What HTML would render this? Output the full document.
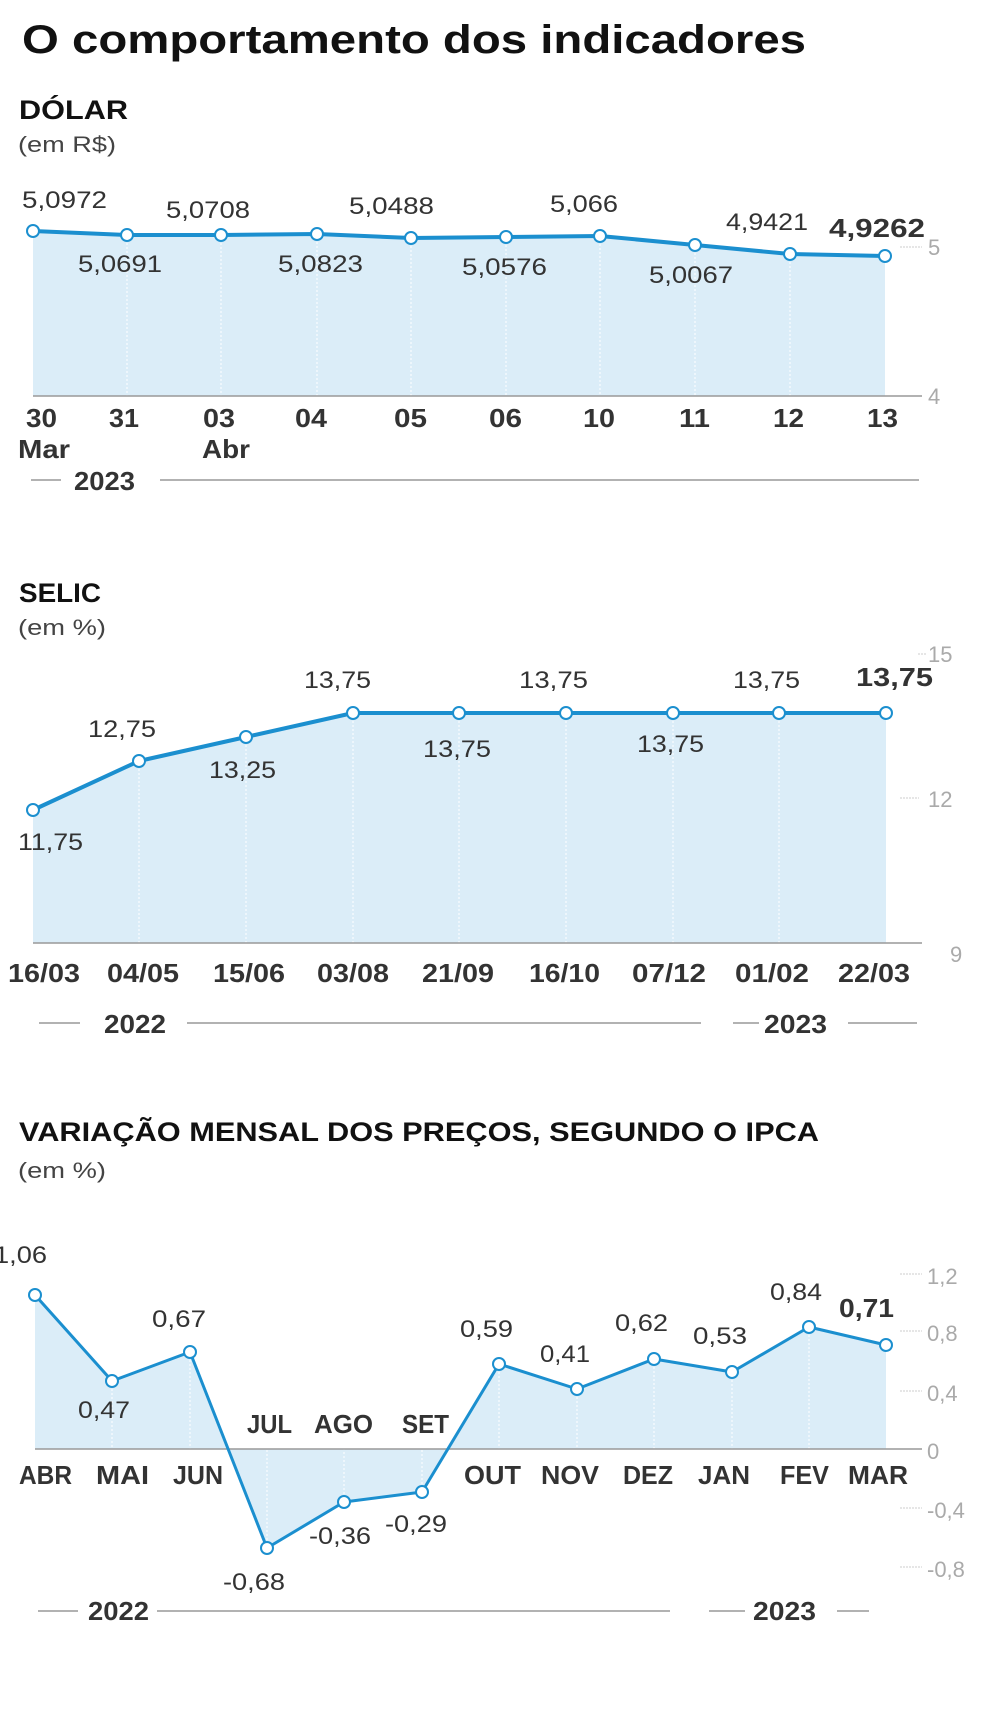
<!DOCTYPE html>
<html><head><meta charset="utf-8"><style>
html,body{margin:0;padding:0;background:#fff;}
svg{display:block;}
text{font-family:"Liberation Sans",sans-serif;}
.t{font-weight:bold;fill:#111;}
.sub{fill:#444;font-size:22px;}
.v{fill:#333;font-size:24px;}
.vb{fill:#333;font-size:26px;font-weight:bold;}
.x{fill:#333;font-size:26px;font-weight:bold;}
.ax{fill:#aaa;font-size:22px;}
.ln{fill:none;stroke:#1b8fcf;stroke-linejoin:round;}
.ar{fill:#dbedf8;}
.vl{stroke:#fff;stroke-width:1;stroke-dasharray:2,2;}
.mk{fill:#fff;stroke:#1b8fcf;stroke-width:2;}
.gl{stroke:#999;stroke-width:1.5;}
.gd{stroke:#ccc;stroke-width:1;stroke-dasharray:2,1;}
</style></head><body>
<svg width="984" height="1710" viewBox="0 0 984 1710" xmlns="http://www.w3.org/2000/svg">
<text class="t" x="22" y="53" font-size="40" textLength="784" lengthAdjust="spacingAndGlyphs">O comportamento dos indicadores</text>

<!-- DOLAR -->
<text class="t" x="19" y="119" font-size="27" textLength="109" lengthAdjust="spacingAndGlyphs">DÓLAR</text>
<text class="sub" x="18" y="152" textLength="98" lengthAdjust="spacingAndGlyphs">(em R$)</text>
<polygon class="ar" points="33,231 127,235 221,235 317,234 411,238 506,237 600,236 695,245 790,254 885,256 885,396 33,396"/>
<g class="vl"><line x1="127" y1="235" x2="127" y2="396"/><line x1="221" y1="235" x2="221" y2="396"/><line x1="317" y1="234" x2="317" y2="396"/><line x1="411" y1="238" x2="411" y2="396"/><line x1="506" y1="237" x2="506" y2="396"/><line x1="600" y1="236" x2="600" y2="396"/><line x1="695" y1="245" x2="695" y2="396"/><line x1="790" y1="254" x2="790" y2="396"/></g>
<line class="gl" x1="33" y1="396" x2="922" y2="396"/>
<line class="gd" x1="900" y1="247" x2="922" y2="247"/>
<polyline class="ln" stroke-width="4" points="33,231 127,235 221,235 317,234 411,238 506,237 600,236 695,245 790,254 885,256"/>
<g class="mk"><circle cx="33" cy="231" r="6"/><circle cx="127" cy="235" r="6"/><circle cx="221" cy="235" r="6"/><circle cx="317" cy="234" r="6"/><circle cx="411" cy="238" r="6"/><circle cx="506" cy="237" r="6"/><circle cx="600" cy="236" r="6"/><circle cx="695" cy="245" r="6"/><circle cx="790" cy="254" r="6"/><circle cx="885" cy="256" r="6"/></g>
<text class="ax" x="928" y="255">5</text><text class="ax" x="928" y="404">4</text>
<g class="v">
<text x="22" y="208" textLength="85" lengthAdjust="spacingAndGlyphs">5,0972</text>
<text x="78" y="272" textLength="84" lengthAdjust="spacingAndGlyphs">5,0691</text>
<text x="166" y="218" textLength="84" lengthAdjust="spacingAndGlyphs">5,0708</text>
<text x="278" y="272" textLength="85" lengthAdjust="spacingAndGlyphs">5,0823</text>
<text x="349" y="214" textLength="85" lengthAdjust="spacingAndGlyphs">5,0488</text>
<text x="462" y="275" textLength="85" lengthAdjust="spacingAndGlyphs">5,0576</text>
<text x="550" y="212" textLength="68" lengthAdjust="spacingAndGlyphs">5,066</text>
<text x="649" y="283" textLength="84" lengthAdjust="spacingAndGlyphs">5,0067</text>
<text x="726" y="230" textLength="82" lengthAdjust="spacingAndGlyphs">4,9421</text>
</g>
<text class="vb" x="829" y="237" textLength="96" lengthAdjust="spacingAndGlyphs">4,9262</text>
<g class="x">
<text x="26" y="427" textLength="31" lengthAdjust="spacingAndGlyphs">30</text>
<text x="18" y="458" textLength="52" lengthAdjust="spacingAndGlyphs">Mar</text>
<text x="109" y="427" textLength="30" lengthAdjust="spacingAndGlyphs">31</text>
<text x="203" y="427" textLength="32" lengthAdjust="spacingAndGlyphs">03</text>
<text x="202" y="458" textLength="48" lengthAdjust="spacingAndGlyphs">Abr</text>
<text x="295" y="427" textLength="32" lengthAdjust="spacingAndGlyphs">04</text>
<text x="394" y="427" textLength="33" lengthAdjust="spacingAndGlyphs">05</text>
<text x="489" y="427" textLength="33" lengthAdjust="spacingAndGlyphs">06</text>
<text x="583" y="427" textLength="32" lengthAdjust="spacingAndGlyphs">10</text>
<text x="679" y="427" textLength="31" lengthAdjust="spacingAndGlyphs">11</text>
<text x="773" y="427" textLength="31" lengthAdjust="spacingAndGlyphs">12</text>
<text x="867" y="427" textLength="31" lengthAdjust="spacingAndGlyphs">13</text>
<text x="74" y="490" textLength="61" lengthAdjust="spacingAndGlyphs">2023</text>
</g>
<line class="gl" x1="31" y1="480" x2="61" y2="480"/><line class="gl" x1="160" y1="480" x2="919" y2="480"/>

<!-- SELIC -->
<text class="t" x="19" y="602" font-size="27" textLength="82" lengthAdjust="spacingAndGlyphs">SELIC</text>
<text class="sub" x="18" y="635" textLength="88" lengthAdjust="spacingAndGlyphs">(em %)</text>
<polygon class="ar" points="33,810 139,761 246,737 353,713 459,713 566,713 673,713 779,713 886,713 886,943 33,943"/>
<g class="vl"><line x1="139" y1="761" x2="139" y2="943"/><line x1="246" y1="737" x2="246" y2="943"/><line x1="353" y1="713" x2="353" y2="943"/><line x1="459" y1="713" x2="459" y2="943"/><line x1="566" y1="713" x2="566" y2="943"/><line x1="673" y1="713" x2="673" y2="943"/><line x1="779" y1="713" x2="779" y2="943"/></g>
<line class="gl" x1="33" y1="943" x2="922" y2="943"/>
<line class="gd" x1="900" y1="798" x2="919" y2="798"/>
<line class="gd" x1="918" y1="654" x2="926" y2="654"/>
<polyline class="ln" stroke-width="4" points="33,810 139,761 246,737 353,713 459,713 566,713 673,713 779,713 886,713"/>
<g class="mk"><circle cx="33" cy="810" r="6"/><circle cx="139" cy="761" r="6"/><circle cx="246" cy="737" r="6"/><circle cx="353" cy="713" r="6"/><circle cx="459" cy="713" r="6"/><circle cx="566" cy="713" r="6"/><circle cx="673" cy="713" r="6"/><circle cx="779" cy="713" r="6"/><circle cx="886" cy="713" r="6"/></g>
<text class="ax" x="928" y="662">15</text><text class="ax" x="928" y="807">12</text><text class="ax" x="950" y="962">9</text>
<g class="v">
<text x="18" y="850" textLength="65" lengthAdjust="spacingAndGlyphs">11,75</text>
<text x="88" y="737" textLength="68" lengthAdjust="spacingAndGlyphs">12,75</text>
<text x="209" y="778" textLength="67" lengthAdjust="spacingAndGlyphs">13,25</text>
<text x="304" y="688" textLength="67" lengthAdjust="spacingAndGlyphs">13,75</text>
<text x="423" y="757" textLength="68" lengthAdjust="spacingAndGlyphs">13,75</text>
<text x="519" y="688" textLength="69" lengthAdjust="spacingAndGlyphs">13,75</text>
<text x="637" y="752" textLength="67" lengthAdjust="spacingAndGlyphs">13,75</text>
<text x="733" y="688" textLength="67" lengthAdjust="spacingAndGlyphs">13,75</text>
</g>
<text class="vb" x="856" y="686" textLength="77" lengthAdjust="spacingAndGlyphs">13,75</text>
<g class="x">
<text x="8" y="982" textLength="72" lengthAdjust="spacingAndGlyphs">16/03</text>
<text x="107" y="982" textLength="72" lengthAdjust="spacingAndGlyphs">04/05</text>
<text x="213" y="982" textLength="72" lengthAdjust="spacingAndGlyphs">15/06</text>
<text x="317" y="982" textLength="72" lengthAdjust="spacingAndGlyphs">03/08</text>
<text x="422" y="982" textLength="72" lengthAdjust="spacingAndGlyphs">21/09</text>
<text x="529" y="982" textLength="71" lengthAdjust="spacingAndGlyphs">16/10</text>
<text x="632" y="982" textLength="74" lengthAdjust="spacingAndGlyphs">07/12</text>
<text x="735" y="982" textLength="74" lengthAdjust="spacingAndGlyphs">01/02</text>
<text x="838" y="982" textLength="72" lengthAdjust="spacingAndGlyphs">22/03</text>
<text x="104" y="1033" textLength="62" lengthAdjust="spacingAndGlyphs">2022</text>
<text x="764" y="1033" textLength="63" lengthAdjust="spacingAndGlyphs">2023</text>
</g>
<line class="gl" x1="39" y1="1023" x2="80" y2="1023"/><line class="gl" x1="187" y1="1023" x2="701" y2="1023"/>
<line class="gl" x1="733" y1="1023" x2="759" y2="1023"/><line class="gl" x1="848" y1="1023" x2="917" y2="1023"/>

<!-- IPCA -->
<text class="t" x="19" y="1141" font-size="27" textLength="800" lengthAdjust="spacingAndGlyphs">VARIAÇÃO MENSAL DOS PREÇOS, SEGUNDO O IPCA</text>
<text class="sub" x="18" y="1178" textLength="88" lengthAdjust="spacingAndGlyphs">(em %)</text>
<polygon class="ar" points="35,1295 112,1381 190,1352 267,1548 344,1502 422,1492 499,1364 577,1389 654,1359 732,1372 809,1327 886,1345 886,1449 35,1449"/>
<g class="vl"><line x1="112" y1="1381" x2="112" y2="1449"/><line x1="190" y1="1352" x2="190" y2="1449"/><line x1="267" y1="1548" x2="267" y2="1449"/><line x1="344" y1="1502" x2="344" y2="1449"/><line x1="422" y1="1492" x2="422" y2="1449"/><line x1="499" y1="1364" x2="499" y2="1449"/><line x1="577" y1="1389" x2="577" y2="1449"/><line x1="654" y1="1359" x2="654" y2="1449"/><line x1="732" y1="1372" x2="732" y2="1449"/><line x1="809" y1="1327" x2="809" y2="1449"/></g>
<line class="gl" x1="35" y1="1449" x2="922" y2="1449"/>
<g class="gd"><line x1="900" y1="1274" x2="922" y2="1274"/><line x1="900" y1="1331" x2="922" y2="1331"/><line x1="900" y1="1391" x2="922" y2="1391"/><line x1="900" y1="1508" x2="922" y2="1508"/><line x1="900" y1="1567" x2="922" y2="1567"/></g>
<polyline class="ln" stroke-width="3" points="35,1295 112,1381 190,1352 267,1548 344,1502 422,1492 499,1364 577,1389 654,1359 732,1372 809,1327 886,1345"/>
<g class="mk"><circle cx="35" cy="1295" r="6"/><circle cx="112" cy="1381" r="6"/><circle cx="190" cy="1352" r="6"/><circle cx="267" cy="1548" r="6"/><circle cx="344" cy="1502" r="6"/><circle cx="422" cy="1492" r="6"/><circle cx="499" cy="1364" r="6"/><circle cx="577" cy="1389" r="6"/><circle cx="654" cy="1359" r="6"/><circle cx="732" cy="1372" r="6"/><circle cx="809" cy="1327" r="6"/><circle cx="886" cy="1345" r="6"/></g>
<g class="ax">
<text x="927" y="1284">1,2</text><text x="927" y="1341">0,8</text><text x="927" y="1401">0,4</text><text x="927" y="1459">0</text><text x="927" y="1518">-0,4</text><text x="927" y="1577">-0,8</text>
</g>
<g class="v">
<text x="-6" y="1263" textLength="53" lengthAdjust="spacingAndGlyphs">1,06</text>
<text x="78" y="1418" textLength="52" lengthAdjust="spacingAndGlyphs">0,47</text>
<text x="152" y="1327" textLength="54" lengthAdjust="spacingAndGlyphs">0,67</text>
<text x="223" y="1590" textLength="62" lengthAdjust="spacingAndGlyphs">-0,68</text>
<text x="309" y="1544" textLength="62" lengthAdjust="spacingAndGlyphs">-0,36</text>
<text x="385" y="1532" textLength="62" lengthAdjust="spacingAndGlyphs">-0,29</text>
<text x="460" y="1337" textLength="53" lengthAdjust="spacingAndGlyphs">0,59</text>
<text x="540" y="1362" textLength="50" lengthAdjust="spacingAndGlyphs">0,41</text>
<text x="615" y="1331" textLength="53" lengthAdjust="spacingAndGlyphs">0,62</text>
<text x="693" y="1344" textLength="54" lengthAdjust="spacingAndGlyphs">0,53</text>
<text x="770" y="1300" textLength="52" lengthAdjust="spacingAndGlyphs">0,84</text>
</g>
<text class="vb" x="839" y="1317" textLength="55" lengthAdjust="spacingAndGlyphs">0,71</text>
<g class="x">
<text x="19" y="1484" textLength="53" lengthAdjust="spacingAndGlyphs">ABR</text>
<text x="96" y="1484" textLength="53" lengthAdjust="spacingAndGlyphs">MAI</text>
<text x="173" y="1484" textLength="50" lengthAdjust="spacingAndGlyphs">JUN</text>
<text x="247" y="1433" textLength="45" lengthAdjust="spacingAndGlyphs">JUL</text>
<text x="314" y="1433" textLength="59" lengthAdjust="spacingAndGlyphs">AGO</text>
<text x="402" y="1433" textLength="47" lengthAdjust="spacingAndGlyphs">SET</text>
<text x="464" y="1484" textLength="57" lengthAdjust="spacingAndGlyphs">OUT</text>
<text x="541" y="1484" textLength="58" lengthAdjust="spacingAndGlyphs">NOV</text>
<text x="623" y="1484" textLength="50" lengthAdjust="spacingAndGlyphs">DEZ</text>
<text x="698" y="1484" textLength="52" lengthAdjust="spacingAndGlyphs">JAN</text>
<text x="780" y="1484" textLength="49" lengthAdjust="spacingAndGlyphs">FEV</text>
<text x="848" y="1484" textLength="60" lengthAdjust="spacingAndGlyphs">MAR</text>
<text x="88" y="1620" textLength="61" lengthAdjust="spacingAndGlyphs">2022</text>
<text x="753" y="1620" textLength="63" lengthAdjust="spacingAndGlyphs">2023</text>
</g>
<line class="gl" x1="38" y1="1611" x2="78" y2="1611"/><line class="gl" x1="157" y1="1611" x2="670" y2="1611"/>
<line class="gl" x1="709" y1="1611" x2="745" y2="1611"/><line class="gl" x1="837" y1="1611" x2="869" y2="1611"/>
</svg>
</body></html>
